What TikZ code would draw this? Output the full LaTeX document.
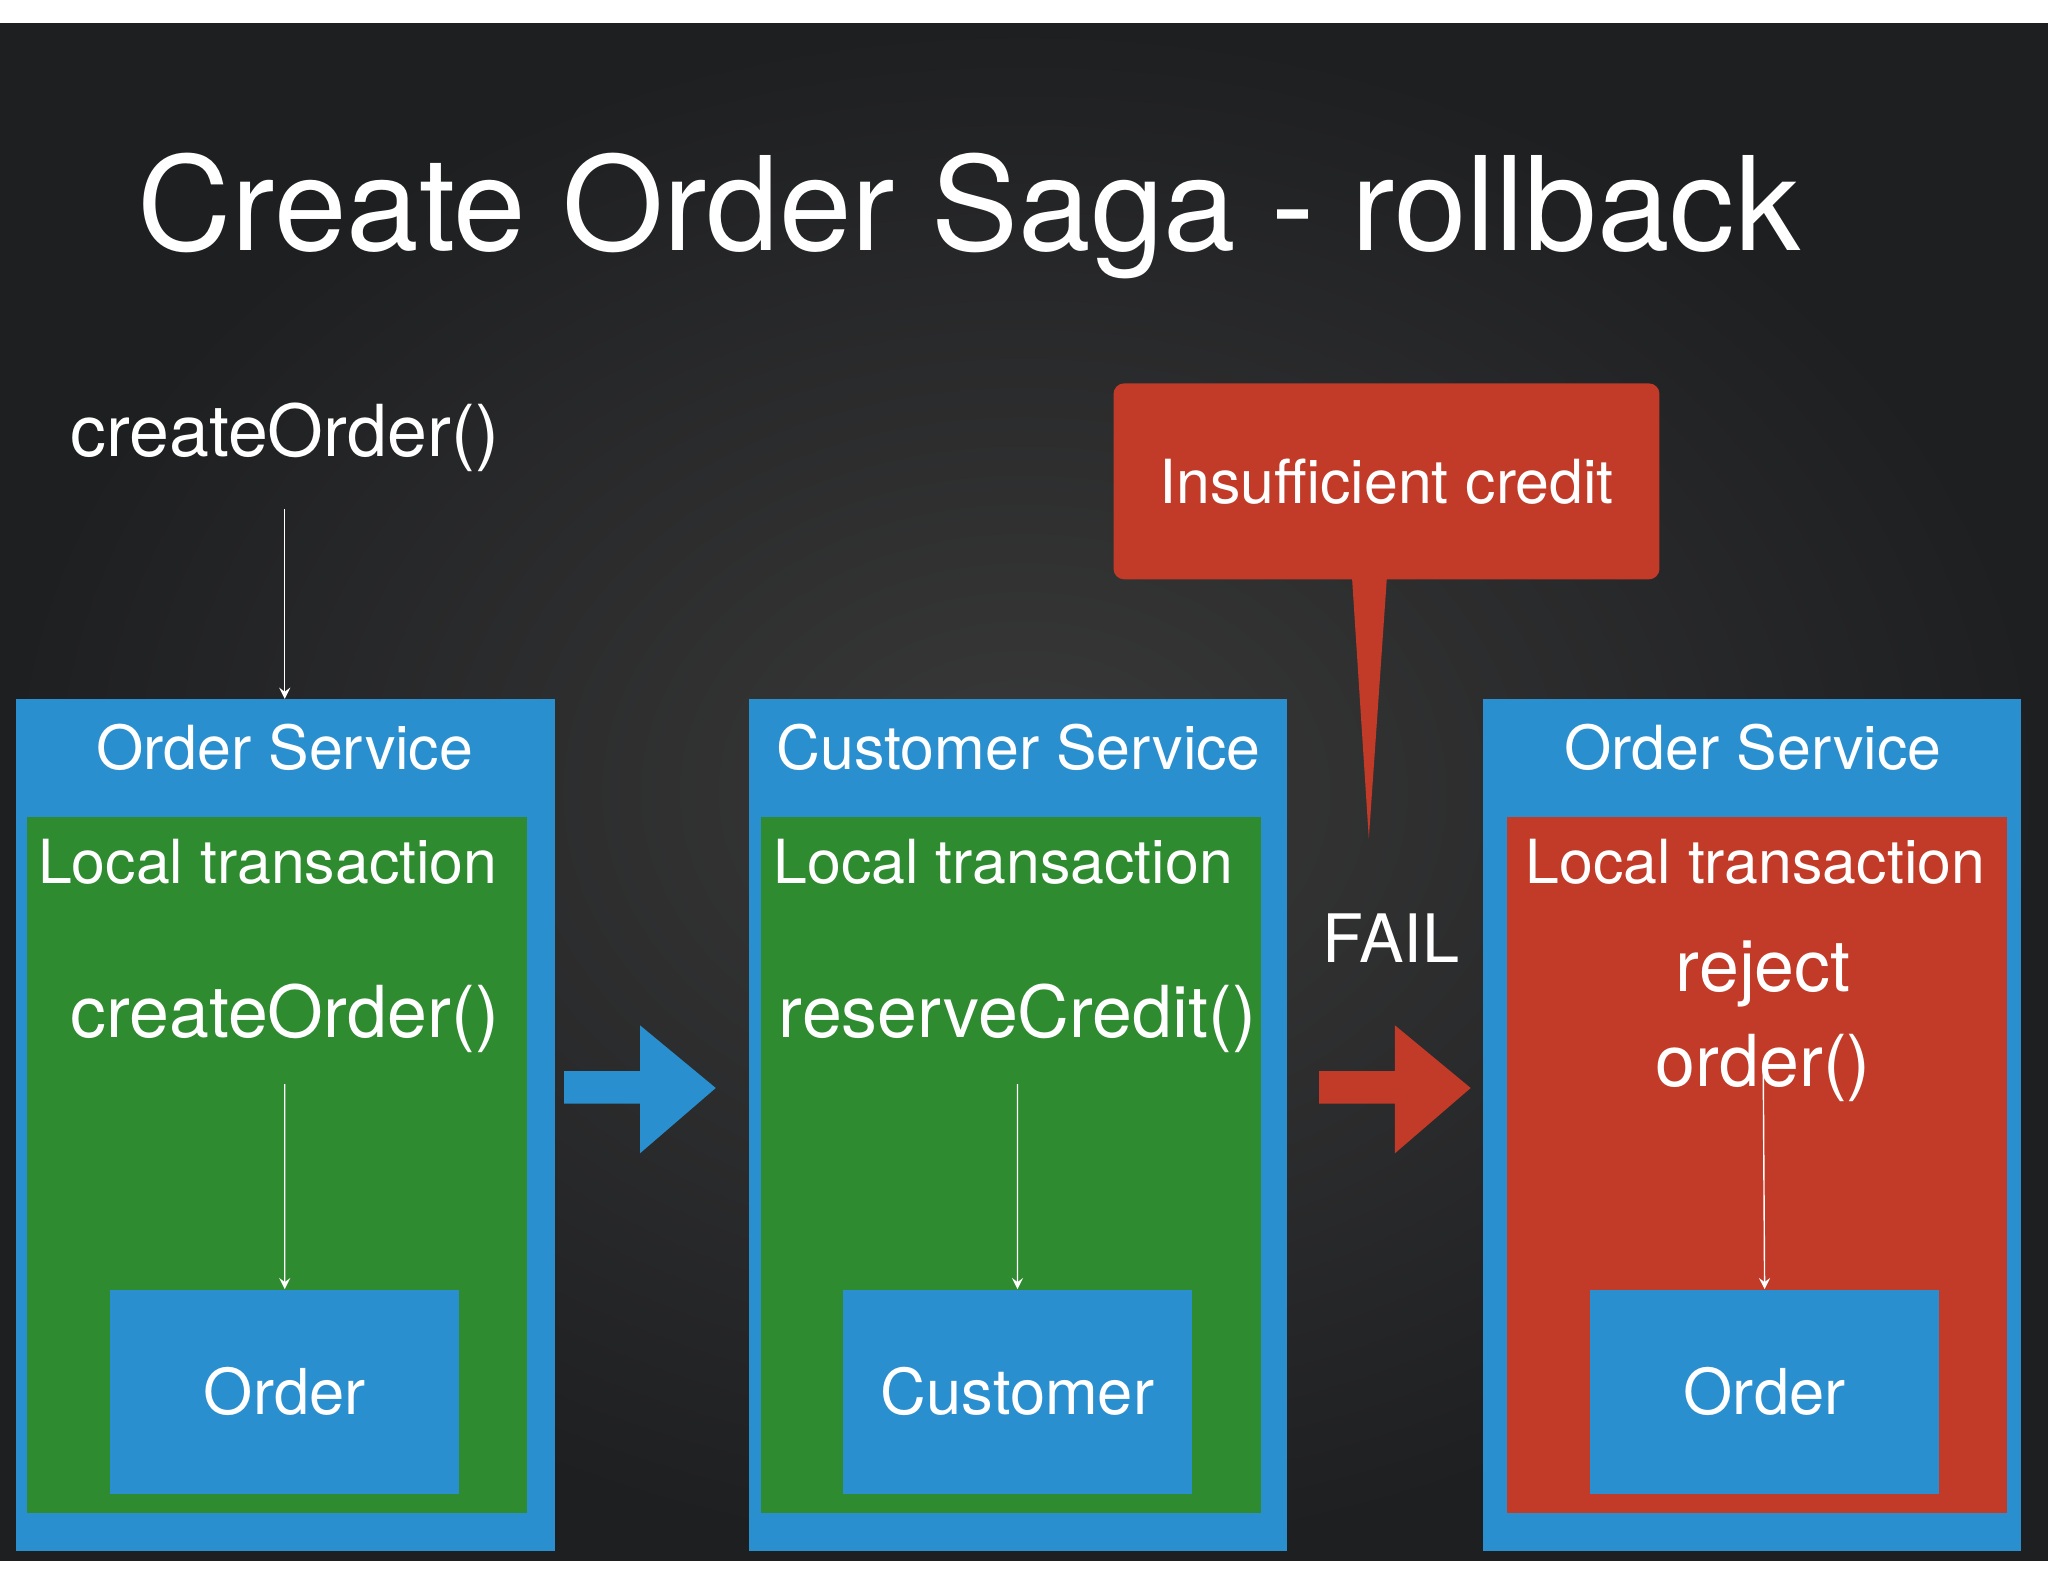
\documentclass[tikz,border=0pt]{standalone}
\usepackage{fontspec}
\setmainfont{TeX Gyre Heros}
\usetikzlibrary{shapes.geometric, arrows}
\definecolor{bgdark}{HTML}{1E1F21}
\definecolor{svcblue}{HTML}{2A8FCF}
\definecolor{txgreen}{HTML}{2E8B2F}
\definecolor{failred}{HTML}{C23A28}
\newcommand{\px}{0.01306cm}
\tikzstyle{service} = [rectangle, anchor=north west, fill=svcblue, inner sep=0pt, minimum width={412*\px}, minimum height={652*\px}]
\tikzstyle{localtx} = [rectangle, anchor=north west, inner sep=0pt, minimum width={383*\px}, minimum height={533*\px}]
\tikzstyle{entity} = [rectangle, anchor=north west, fill=svcblue, inner sep=0pt, minimum width={267*\px}, minimum height={156*\px}]
\tikzstyle{label} = [text=white, font=\fontsize{17.3}{20}\selectfont]
\tikzstyle{call} = [text=white, font=\fontsize{20.4}{24}\selectfont]
\tikzstyle{arrow} = [white, ->, >=stealth, thin]

\begin{document}
\begin{tikzpicture}[x=\px, y=-\px]
% Background
\useasboundingbox (0,0) rectangle (1568,1211);
\fill[white] (0,0) rectangle (1568,1211);
\shade[inner color=gray!45!black, outer color=bgdark] (0,18) rectangle (1568,1195);
% Title
\node (title) [anchor=west, text=white, font=\fontsize{37.1}{42}\selectfont] at (96,165) {Create Order Saga - rollback};
\node (start) [call] at (218,335) {createOrder()};
% Draw boxes
\node (svc1) [service] at (12,535) {};
\node (svc2) [service] at (573,535) {};
\node (svc3) [service] at (1135,535) {};
\node (tx1) [localtx, fill=txgreen] at (20,625) {};
\node (tx2) [localtx, fill=txgreen] at (582,625) {};
\node (tx3) [localtx, fill=failred] at (1153,625) {};
\node (ent1) [entity] at (84,987) {};
\node (ent2) [entity] at (645,987) {};
\node (ent3) [entity] at (1217,987) {};
\node [label, font=\fontsize{18}{21}\selectfont] at (ent1.center) {Order};
\node [label, font=\fontsize{18}{21}\selectfont] at (ent2.center) {Customer};
\node [label, font=\fontsize{18}{21}\selectfont] at (ent3.center) {Order};
% Texts
\node [label] at (218,572) {Order Service};
\node [label] at (780,572) {Customer Service};
\node [label] at (1342,572) {Order Service};
\node [label] at (205,660) {Local transaction};
\node [label] at (768,660) {Local transaction};
\node [label] at (1344,660) {Local transaction};
\node (op1) [call] at (218,780) {createOrder()};
\node (op2) [call] at (779,780) {reserveCredit()};
\node (op3) [call, align=center, font=\fontsize{20.4}{27}\selectfont] at (1350,782) {reject\\order()};
\node (fail) [call, font=\fontsize{19}{22}\selectfont] at (1065,718) {FAIL};
% Callout
\node (reason) [rectangle, rounded corners=3pt, anchor=north west, fill=failred, minimum width={418*\px}, minimum height={150*\px}, inner sep=0pt] at (852,293) {};
\fill[failred] (1035,440) -- (1048,642) -- (1062,440) -- cycle;
\node [label] at (reason.center) {Insufficient credit};
% Big arrows
\fill[svcblue] (432,820) -- (490,820) -- (490,785) -- (548,833) -- (490,883) -- (490,845) -- (432,845) -- cycle;
\fill[failred] (1010,820) -- (1068,820) -- (1068,785) -- (1126,833) -- (1068,883) -- (1068,845) -- (1010,845) -- cycle;
% Draw arrows
\draw [arrow] (218,390) -- (svc1.north -| start);
\draw [arrow] (218,830) -- (ent1.north);
\draw [arrow] (779,830) -- (ent2.north);
\draw [arrow] (1350,820) -- (ent3.north);
\end{tikzpicture}
\end{document}
